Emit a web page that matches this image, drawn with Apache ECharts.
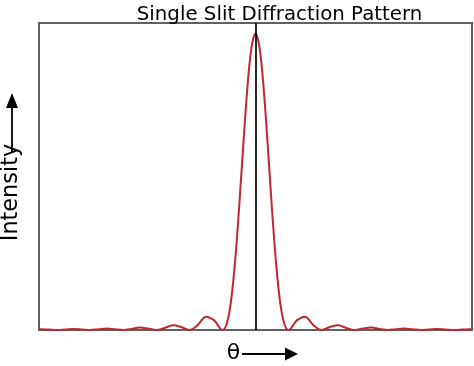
<!DOCTYPE html>
<html><head><meta charset="utf-8">
<script src="https://cdn.jsdelivr.net/npm/echarts@6/dist/echarts.min.js"></script>
<style>html,body{margin:0;padding:0;background:#fff}#c{width:474px;height:366px}</style>
</head><body><div id="c"></div>
<script>
const titleText = 'Single Slit Diffraction Pattern';
const yLabel = 'Intensity';
const xLabel = 'θ';
// positions along θ (in units of first-minimum spacing) and intensity
const theta = [-6.55,-6.5,-6.25,-6,-5.75,-5.5,-5.25,-5,-4.75,-4.5,-4.25,-4,-3.75,-3.5,-3.25,-3,-2.75,-2.5,-2.25,-2,-1.75,-1.5,-1.25,-1,-0.875,-0.75,-0.625,-0.5,-0.375,-0.25,-0.125,0,0.125,0.25,0.375,0.5,0.625,0.75,0.875,1,1.25,1.5,1.75,2,2.25,2.5,2.75,3,3.25,3.5,3.75,4,4.25,4.5,4.75,5,5.25,5.5,5.75,6,6.25,6.5,6.55];
const intensity = [0.0023,0.0024,0.0013,0,0.0015,0.0033,0.0018,0,0.0022,0.005,0.0028,0,0.0036,0.0083,0.0048,0,0.0067,0.0162,0.01,0,0.0165,0.045,0.0324,0,0.0194,0.0901,0.2214,0.4053,0.615,0.8106,0.9497,1,0.9497,0.8106,0.615,0.4053,0.2214,0.0901,0.0194,0,0.0324,0.045,0.0165,0,0.01,0.0162,0.0067,0,0.0048,0.0083,0.0036,0,0.0028,0.005,0.0022,0,0.0018,0.0033,0.0015,0,0.0013,0.0024,0.0023];
const xRange = [-6.55, 6.55];
const yRange = [0, 1.035];

const chart = echarts.init(document.getElementById('c'), null, {renderer:'canvas'});
const font = 'DejaVu Sans';
chart.setOption({
  animation:false,
  backgroundColor:'#fff',
  title:{text:titleText,left:274.5,top:0,textAlign:'center',textStyle:{fontFamily:font,fontSize:19.8,fontWeight:'normal',color:'#000'}},
  grid:{left:39,right:2,top:23,bottom:36,show:true,borderColor:'#606060',borderWidth:2,backgroundColor:'transparent'},
  xAxis:{type:'value',min:xRange[0],max:xRange[1],axisLine:{show:false},axisTick:{show:false},axisLabel:{show:false},splitLine:{show:false}},
  yAxis:{type:'value',min:yRange[0],max:yRange[1],axisLine:{show:false},axisTick:{show:false},axisLabel:{show:false},splitLine:{show:false}},
  series:[{
    type:'line',
    data:theta.map((t,i)=>[t,intensity[i]]),
    smooth:0.35,
    showSymbol:false,
    lineStyle:{color:'#c1272d',width:2},
    markLine:{silent:true,symbol:['none','none'],label:{show:false},lineStyle:{color:'#000',width:1.7,type:'solid'},data:[{xAxis:0}]}
  }],
  graphic:[
    {type:'text',rotation:Math.PI/2,x:11,y:192.5,style:{text:yLabel,font:'22.4px "DejaVu Sans"',fill:'#000',align:'center',verticalAlign:'middle'}},
    {type:'line',shape:{x1:12,y1:152,x2:12,y2:104},style:{stroke:'#000',lineWidth:1.8}},
    {type:'polygon',shape:{points:[[12,93],[6,108],[18,108]]},style:{fill:'#000'}},
    {type:'text',x:233.5,y:353.5,style:{text:xLabel,font:'22px "DejaVu Sans"',fill:'#000',align:'center',verticalAlign:'middle'}},
    {type:'line',shape:{x1:242,y1:354,x2:290,y2:354},style:{stroke:'#000',lineWidth:1.8}},
    {type:'polygon',shape:{points:[[298,354],[285,347.5],[285,360.5]]},style:{fill:'#000'}}
  ]
});
</script></body></html>
